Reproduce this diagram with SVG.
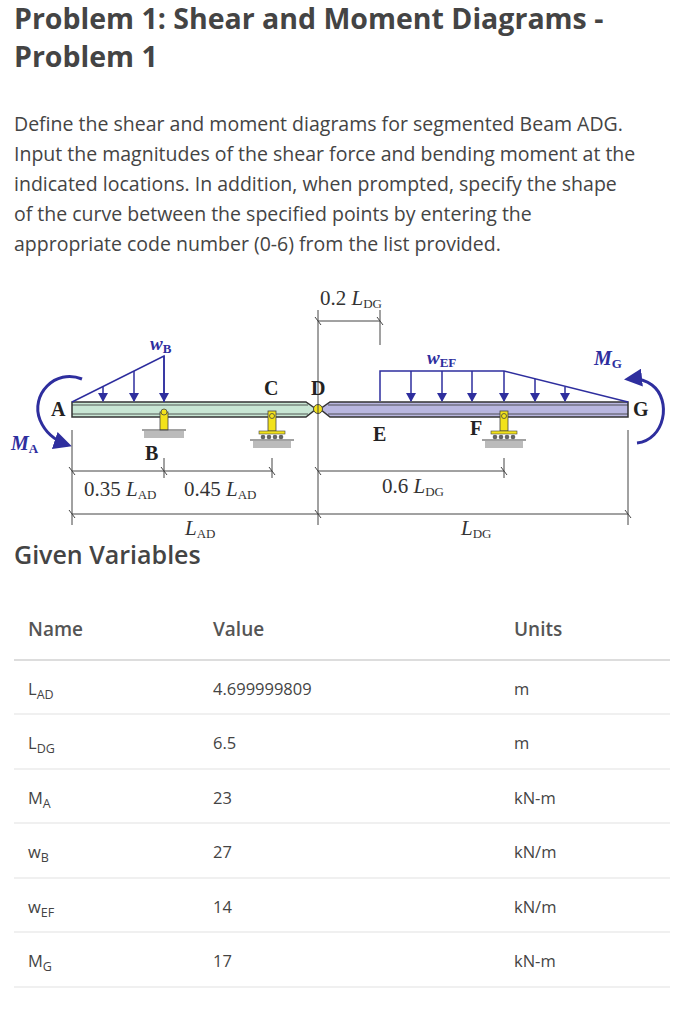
<svg xmlns="http://www.w3.org/2000/svg" width="684" height="1024" viewBox="0 0 684 1024">
<style>
.t{font-family:"Open Sans",sans-serif;fill:#444}
.h{font-size:28.5px;font-weight:bold}
.p{font-size:19.5px}
.th{font-size:19px;font-weight:600;fill:#555}
.td{font-size:16.5px;fill:#444}
.sm{font-size:13px;font-style:normal}
.s{font-family:"Liberation Serif",serif;fill:#222}
.lb{font-size:20px;font-weight:bold}
.dim{font-size:21px;fill:#333}
.blue{fill:#2e2e9e;font-family:"Liberation Serif",serif;font-style:italic;font-weight:bold}
.dl{stroke:#444;stroke-width:1;fill:none}
.ld{stroke:#2e2e9e;stroke-width:1.5;fill:none}
</style>
<defs>
<marker id="ah" markerWidth="9" markerHeight="10" refX="8" refY="5" orient="auto" markerUnits="userSpaceOnUse" viewBox="0 0 9 10"><path d="M0,0 L9,5 L0,10z" fill="#2e2e9e"/></marker>
<marker id="big" markerWidth="18" markerHeight="18" refX="14" refY="9" orient="auto" markerUnits="userSpaceOnUse" viewBox="0 0 18 18"><path d="M0,0 L18,9 L0,18z" fill="#2e2e9e"/></marker>
<g id="roller"><rect x="-4" y="-15" width="8" height="20" fill="#f2e21a" stroke="#444" stroke-width="0.8"/><circle cx="0" cy="-10" r="2.5" fill="#f2e21a" stroke="#444" stroke-width="0.8"/><rect x="-13" y="5" width="26" height="3" fill="#f2e21a" stroke="#444" stroke-width="0.6"/><circle cx="-9" cy="11" r="2.3" fill="#666"/><circle cx="-3" cy="11" r="2.3" fill="#666"/><circle cx="3" cy="11" r="2.3" fill="#666"/><circle cx="9" cy="11" r="2.3" fill="#666"/><line x1="-22" y1="14" x2="22" y2="14" stroke="#444"/><rect x="-19" y="15" width="38" height="7" fill="#bbb"/></g>
</defs>
<rect width="684" height="1024" fill="#fff"/>
<g id="text">
<text class="t h" x="14" y="29">Problem 1: Shear and Moment Diagrams -</text>
<text class="t h" x="14" y="67">Problem 1</text>
<text class="t p" x="14" y="131">Define the shear and moment diagrams for segmented Beam ADG.</text>
<text class="t p" x="14" y="161">Input the magnitudes of the shear force and bending moment at the</text>
<text class="t p" x="14" y="191">indicated locations.  In addition, when prompted, specify the shape</text>
<text class="t p" x="14" y="221">of the curve between the specified points by entering the</text>
<text class="t p" x="14" y="251">appropriate code number (0-6) from the list provided.</text>
<text class="t" x="14" y="564" style="font-size:25px;font-weight:600">Given Variables</text>
</g>
<g id="beamAD"><path d="M72,402 L306,402 L316,409 L306,417 L72,417 Z" fill="#c8e6d4" stroke="#333" stroke-width="1.5"/><line x1="72" y1="405" x2="308" y2="405" stroke="#333" stroke-width="0.8"/><line x1="72" y1="414" x2="308" y2="414" stroke="#333" stroke-width="0.8"/></g>
<g id="beamDG"><path d="M330,402 L628,402 L628,417 L330,417 L320,409 Z" fill="#b9b7e0" stroke="#333" stroke-width="1.5"/><line x1="328" y1="405" x2="628" y2="405" stroke="#333" stroke-width="0.8"/><line x1="328" y1="414" x2="628" y2="414" stroke="#333" stroke-width="0.8"/></g>
<g id="hingeD"><circle cx="318" cy="409" r="4.5" fill="#f2e21a" stroke="#444"/></g>
<g id="supportB"><rect x="160" y="412" width="8" height="18" fill="#f2e21a" stroke="#444" stroke-width="0.8"/><circle cx="164" cy="412" r="3" fill="#f2e21a" stroke="#444" stroke-width="0.8"/><line x1="142" y1="430" x2="186" y2="430" stroke="#444"/><rect x="144" y="431" width="40" height="7" fill="#bbb"/></g>
<g id="supportC"><use href="#roller" x="272" y="426"/></g>
<g id="supportF"><use href="#roller" x="504" y="426"/></g>
<g id="loads">
<path class="ld" d="M72,402 L164,356 L164,402"/>
<line class="ld" x1="103" y1="386" x2="103" y2="401" marker-end="url(#ah)"/>
<line class="ld" x1="134" y1="371" x2="134" y2="401" marker-end="url(#ah)"/>
<line class="ld" x1="164" y1="356" x2="164" y2="401" marker-end="url(#ah)"/>
<path class="ld" d="M380,401 L380,371 L504,371 L628,402"/>
<line class="ld" x1="411" y1="371" x2="411" y2="401" marker-end="url(#ah)"/>
<line class="ld" x1="442" y1="371" x2="442" y2="401" marker-end="url(#ah)"/>
<line class="ld" x1="472" y1="371" x2="472" y2="401" marker-end="url(#ah)"/>
<line class="ld" x1="504" y1="371" x2="504" y2="401" marker-end="url(#ah)"/>
<line class="ld" x1="535" y1="379" x2="535" y2="401" marker-end="url(#ah)"/>
<line class="ld" x1="565" y1="387" x2="565" y2="401" marker-end="url(#ah)"/>
<path d="M82,379 C55,368 30,395 40,420 C45,432 53,440 68,445" stroke="#2e2e9e" stroke-width="3" fill="none" marker-end="url(#big)"/>
<path d="M637,443 C665,440 672,400 652,385 C645,380 638,378 628,379" stroke="#2e2e9e" stroke-width="3" fill="none" marker-end="url(#big)"/>
</g>
<g id="dims">
<line class="dl" x1="72" y1="430" x2="72" y2="525"/>
<line class="dl" x1="164" y1="458" x2="164" y2="478"/>
<line class="dl" x1="272" y1="458" x2="272" y2="478"/>
<line class="dl" x1="318" y1="310" x2="318" y2="525"/>
<line class="dl" x1="380" y1="310" x2="380" y2="345"/>
<line class="dl" x1="504" y1="458" x2="504" y2="478"/>
<line class="dl" x1="628" y1="430" x2="628" y2="525"/>
<line class="dl" x1="72" y1="471" x2="272" y2="471"/>
<line class="dl" x1="318" y1="471" x2="504" y2="471"/>
<line class="dl" x1="72" y1="514" x2="628" y2="514"/>
<line class="dl" x1="318" y1="321" x2="380" y2="321"/>
<path class="dl" d="M69,467 L75,475 M161,467 L167,475 M269,467 L275,475 M315,467 L321,475 M501,467 L507,475 M69,510 L75,518 M315,510 L321,518 M625,510 L631,518 M315,317 L321,325 M377,317 L383,325"/>
</g>
<g id="labels">
<text class="s lb" x="51" y="416">A</text>
<text class="s lb" x="145" y="460">B</text>
<text class="s lb" x="264" y="395">C</text>
<text class="s lb" x="311" y="395">D</text>
<text class="s lb" x="373" y="441">E</text>
<text class="s lb" x="470" y="435">F</text>
<text class="s lb" x="633" y="416">G</text>
<text class="blue" x="150" y="350" style="font-size:19px">w<tspan class="sm" dy="3">B</tspan></text>
<text class="blue" x="427" y="364" style="font-size:19px">w<tspan class="sm" dy="3">EF</tspan></text>
<text class="blue" x="11" y="450" style="font-size:20px">M<tspan class="sm" dy="3">A</tspan></text>
<text class="blue" x="594" y="365" style="font-size:20px">M<tspan class="sm" dy="3">G</tspan></text>
<text class="s dim" x="84" y="496">0.35 <tspan font-style="italic">L</tspan><tspan class="sm" dy="3">AD</tspan></text>
<text class="s dim" x="184" y="496">0.45 <tspan font-style="italic">L</tspan><tspan class="sm" dy="3">AD</tspan></text>
<text class="s dim" x="382" y="493">0.6 <tspan font-style="italic">L</tspan><tspan class="sm" dy="3">DG</tspan></text>
<text class="s dim" x="320" y="305">0.2 <tspan font-style="italic">L</tspan><tspan class="sm" dy="3">DG</tspan></text>
<text class="s dim" x="185" y="535"><tspan font-style="italic">L</tspan><tspan class="sm" dy="3">AD</tspan></text>
<text class="s dim" x="461" y="535"><tspan font-style="italic">L</tspan><tspan class="sm" dy="3">DG</tspan></text>
</g>
<g id="table">
<text class="t th" x="28" y="636">Name</text>
<text class="t th" x="213" y="636">Value</text>
<text class="t th" x="514" y="636">Units</text>
<line x1="14" y1="660" x2="670" y2="660" stroke="#ddd" stroke-width="2"/>
<g class="t td">
<text x="28" y="695">L<tspan font-size="12.5" dy="4">AD</tspan></text><text x="213" y="695">4.699999809</text><text x="514" y="695">m</text>
<text x="28" y="749">L<tspan font-size="12.5" dy="4">DG</tspan></text><text x="213" y="749">6.5</text><text x="514" y="749">m</text>
<text x="28" y="804">M<tspan font-size="12.5" dy="4">A</tspan></text><text x="213" y="804">23</text><text x="514" y="804">kN-m</text>
<text x="28" y="858">w<tspan font-size="12.5" dy="4">B</tspan></text><text x="213" y="858">27</text><text x="514" y="858">kN/m</text>
<text x="28" y="913">w<tspan font-size="12.5" dy="4">EF</tspan></text><text x="213" y="913">14</text><text x="514" y="913">kN/m</text>
<text x="28" y="967">M<tspan font-size="12.5" dy="4">G</tspan></text><text x="213" y="967">17</text><text x="514" y="967">kN-m</text>
</g>
<g stroke="#e2e2e2" stroke-width="1.2">
<line x1="14" y1="714" x2="670" y2="714"/><line x1="14" y1="769" x2="670" y2="769"/><line x1="14" y1="823" x2="670" y2="823"/><line x1="14" y1="878" x2="670" y2="878"/><line x1="14" y1="932" x2="670" y2="932"/><line x1="14" y1="987" x2="670" y2="987"/>
</g>
</g>
</svg>
